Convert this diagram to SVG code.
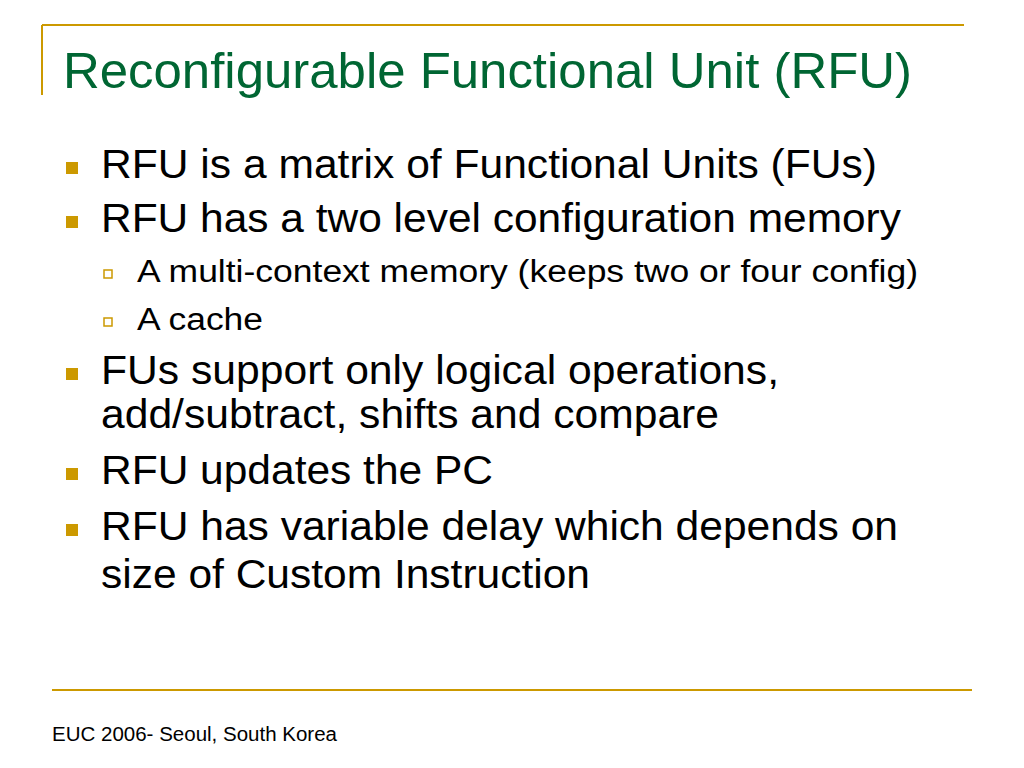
<svg xmlns="http://www.w3.org/2000/svg" width="1024" height="768" viewBox="0 0 1024 768">
<style>
.t{font-family:"Liberation Sans",Arial,sans-serif;fill:#000}
.b{font-size:41px}
.s{font-size:31px}
.bul{fill:#CC9900}
.sub{fill:none;stroke:#CC9900;stroke-width:1.5}
</style>
<rect width="1024" height="768" fill="#fff"/>
<line x1="42" y1="25" x2="964" y2="25" stroke="#CC9900" stroke-width="2"/>
<line x1="42" y1="25" x2="42" y2="95" stroke="#CC9900" stroke-width="2"/>
<line x1="52" y1="690" x2="972" y2="690" stroke="#CC9900" stroke-width="2"/>
<text x="63" y="88" font-family="Liberation Sans,Arial,sans-serif" font-size="50" fill="#006633" textLength="849" lengthAdjust="spacingAndGlyphs">Reconfigurable Functional Unit (RFU)</text>
<rect class="bul" x="66" y="162" width="12" height="12"/>
<text class="t b" x="101" y="178" textLength="776" lengthAdjust="spacingAndGlyphs">RFU is a matrix of Functional Units (FUs)</text>
<rect class="bul" x="66" y="216" width="12" height="12"/>
<text class="t b" x="101" y="232" textLength="800" lengthAdjust="spacingAndGlyphs">RFU has a two level configuration memory</text>
<rect class="sub" x="104" y="270" width="8" height="8"/>
<text class="t s" x="137" y="282" textLength="781" lengthAdjust="spacingAndGlyphs">A multi-context memory (keeps two or four config)</text>
<rect class="sub" x="104" y="318" width="8" height="8"/>
<text class="t s" x="137" y="330" textLength="126" lengthAdjust="spacingAndGlyphs">A cache</text>
<rect class="bul" x="66" y="368" width="12" height="12"/>
<text class="t b" x="101" y="384" textLength="678" lengthAdjust="spacingAndGlyphs">FUs support only logical operations,</text>
<text class="t b" x="101" y="428" textLength="618" lengthAdjust="spacingAndGlyphs">add/subtract, shifts and compare</text>
<rect class="bul" x="66" y="468" width="12" height="12"/>
<text class="t b" x="101" y="484" textLength="392" lengthAdjust="spacingAndGlyphs">RFU updates the PC</text>
<rect class="bul" x="66" y="524" width="12" height="12"/>
<text class="t b" x="101" y="540" textLength="797" lengthAdjust="spacingAndGlyphs">RFU has variable delay which depends on</text>
<text class="t b" x="101" y="588" textLength="489" lengthAdjust="spacingAndGlyphs">size of Custom Instruction</text>
<text class="t" x="52" y="741" font-size="20" textLength="285" lengthAdjust="spacingAndGlyphs">EUC 2006- Seoul, South Korea</text>
</svg>
